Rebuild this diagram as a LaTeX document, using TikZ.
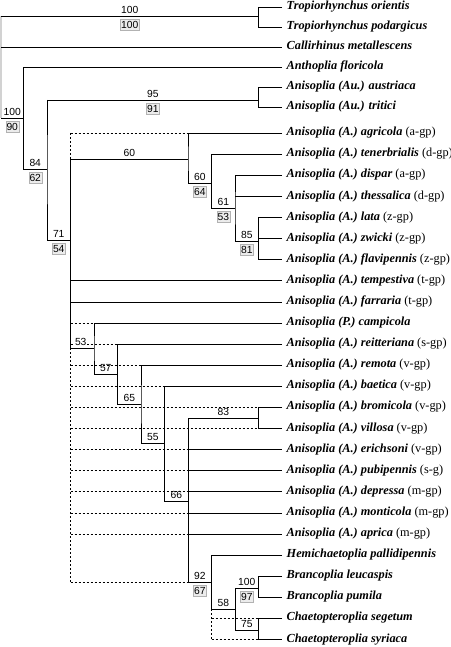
\documentclass[tikz,border=0pt]{standalone}
\usepackage{fontspec}
\setmainfont{Liberation Serif}
\newfontfamily\numfont{Liberation Sans}
\newcommand{\taxon}[1]{\textbf{\textit{#1}}}

\begin{document}
\begin{tikzpicture}[
  x=1pt, y=-1pt,
  br/.style={line width=0.8pt},
  alt/.style={line width=0.7pt, dash pattern=on 2.2pt off 1.8pt},
  leaf/.style={anchor=west, inner xsep=4.5pt, inner ysep=0pt,
               text height=8.5pt, text depth=3pt,
               font=\fontsize{12.3}{14}\selectfont},
  bs/.style={midway, anchor=south, inner sep=1pt, yshift=0.8pt,
             font=\numfont\fontsize{10.3}{11}\selectfont},
  bp/.style={midway, anchor=north, inner xsep=0.8pt, inner ysep=1.8pt,
             yshift=-3pt, fill=gray!15, draw=gray!60, line width=0.3pt,
             font=\numfont\fontsize{10.3}{11}\selectfont}
]
\useasboundingbox (0,0) rectangle (450,647);

% --- Taxa ---
\node[leaf] (orientis)     at (282,7)     {\taxon{Tropiorhynchus orientis}};
\node[leaf] (podargicus)   at (282,27)    {\taxon{Tropiorhynchus podargicus}};
\node[leaf] (callirhinus)  at (282,47)    {\taxon{Callirhinus metallescens}};
\node[leaf] (anthoplia)    at (282,67)    {\taxon{Anthoplia floricola}};
\node[leaf] (austriaca)    at (282,87)    {\taxon{Anisoplia (Au.) austriaca}};
\node[leaf] (tritici)      at (282,107)   {\taxon{Anisoplia (Au.) tritici}};
\node[leaf] (agricola)     at (282,133)   {\taxon{Anisoplia (A.) agricola} (a-gp)};
\node[leaf] (tenerbrialis) at (282,154)   {\taxon{Anisoplia (A.) tenerbrialis} (d-gp)};
\node[leaf] (dispar)       at (282,175)   {\taxon{Anisoplia (A.) dispar} (a-gp)};
\node[leaf] (thessalica)   at (282,196.5) {\taxon{Anisoplia (A.) thessalica} (d-gp)};
\node[leaf] (lata)         at (282,217.5) {\taxon{Anisoplia (A.) lata} (z-gp)};
\node[leaf] (zwicki)       at (282,238.5) {\taxon{Anisoplia (A.) zwicki} (z-gp)};
\node[leaf] (flavipennis)  at (282,259.5) {\taxon{Anisoplia (A.) flavipennis} (z-gp)};
\node[leaf] (tempestiva)   at (282,280.5) {\taxon{Anisoplia (A.) tempestiva} (t-gp)};
\node[leaf] (farraria)     at (282,302)   {\taxon{Anisoplia (A.) farraria} (t-gp)};
\node[leaf] (campicola)    at (282,323)   {\taxon{Anisoplia (P.) campicola}};
\node[leaf] (reitteriana)  at (282,344)   {\taxon{Anisoplia (A.) reitteriana} (s-gp)};
\node[leaf] (remota)       at (282,365)   {\taxon{Anisoplia (A.) remota} (v-gp)};
\node[leaf] (baetica)      at (282,386)   {\taxon{Anisoplia (A.) baetica} (v-gp)};
\node[leaf] (bromicola)    at (282,407)   {\taxon{Anisoplia (A.) bromicola} (v-gp)};
\node[leaf] (villosa)      at (282,428.5) {\taxon{Anisoplia (A.) villosa} (v-gp)};
\node[leaf] (erichsoni)    at (282,449.5) {\taxon{Anisoplia (A.) erichsoni} (v-gp)};
\node[leaf] (pubipennis)   at (282,470.5) {\taxon{Anisoplia (A.) pubipennis} (s-g)};
\node[leaf] (depressa)     at (282,491.5) {\taxon{Anisoplia (A.) depressa} (m-gp)};
\node[leaf] (monticola)    at (282,513)   {\taxon{Anisoplia (A.) monticola} (m-gp)};
\node[leaf] (aprica)       at (282,534)   {\taxon{Anisoplia (A.) aprica} (m-gp)};
\node[leaf] (hemi)         at (282,555)   {\taxon{Hemichaetoplia pallidipennis}};
\node[leaf] (leucaspis)    at (282,576)   {\taxon{Brancoplia leucaspis}};
\node[leaf] (pumila)       at (282,597)   {\taxon{Brancoplia pumila}};
\node[leaf] (segetum)      at (282,618)   {\taxon{Chaetopteroplia segetum}};
\node[leaf] (syriaca)      at (282,639.5) {\taxon{Chaetopteroplia syriaca}};

% --- Internal nodes ---
\coordinate (root) at (1,16);
\coordinate (tro)  at (258.5,16);
\coordinate (n90)  at (23.5,118);
\coordinate (n84)  at (47,169);
\coordinate (au)   at (258.5,100);
\coordinate (n71)  at (70.5,240);
\coordinate (agr)  at (188,159);
\coordinate (n60)  at (211.5,183);
\coordinate (n61)  at (235,208);
\coordinate (n85)  at (258.5,241);
\coordinate (n53)  at (94,348);
\coordinate (n57)  at (117.5,374);
\coordinate (n65)  at (141,404);
\coordinate (n55)  at (164.5,443);
\coordinate (n66)  at (188,501);
\coordinate (n83)  at (258.5,418);
\coordinate (n92)  at (211.5,582);
\coordinate (n58)  at (235,609);
\coordinate (bra)  at (258.5,588);
\coordinate (n75)  at (258.5,630);

% --- Alternative placements (dashed) ---
\draw[alt] (n71 |- agricola.west) -- (n71 |- agr);
\draw[alt] (n71 |- n53) -- (n71 |- n92);
\draw[alt] (n71 |- agricola.west) -- (agr |- agricola.west);
\draw[alt] (n71 |- campicola.west) -- (n53 |- campicola.west);
\draw[alt] (n71 |- reitteriana.west) -- (n57 |- reitteriana.west);
\draw[alt] (n71 |- remota.west) -- (n65 |- remota.west);
\draw[alt] (n71 |- baetica.west) -- (n55 |- baetica.west);
\draw[alt] (n71 |- bromicola.west) -- (n83 |- bromicola.west);
\draw[alt] (n71 |- villosa.west) -- (n83 |- villosa.west);
\draw[alt] (n71 |- erichsoni.west) -- (n66 |- erichsoni.west);
\draw[alt] (n71 |- pubipennis.west) -- (n66 |- pubipennis.west);
\draw[alt] (n71 |- depressa.west) -- (n66 |- depressa.west);
\draw[alt] (n71 |- monticola.west) -- (n66 |- monticola.west);
\draw[alt] (n71 |- aprica.west) -- (n66 |- aprica.west);
\draw[alt] (n71 |- n92) -- (n66 |- n92);
\draw[alt] (n92 |- n58) -- (n92 |- syriaca.west);
\draw[alt] (n92 |- segetum.west) -- (n75 |- segetum.west);
\draw[alt] (n92 |- syriaca.west) -- (n75 |- syriaca.west);

% --- Outgroups ---
\draw[gray!35, line width=2pt] (root) -- (root |- n90);
\draw[br] (root) -- node[bs]{100} node[bp]{100} (tro);
\draw[br] (orientis.west) -| (tro) |- (podargicus.west);
\draw[br] (root |- callirhinus.west) -- (callirhinus.west);
\draw[br] (root |- n90) -- node[bs]{100} node[bp]{90} (n90);
\draw[br] (anthoplia.west) -| (n90) -- (n90 |- n84) -- node[bs]{84} node[bp]{62} (n84);
\draw[br] (n84 |- au) -- node[bs]{95} node[bp]{91} (au);
\draw[br] (austriaca.west) -| (au) |- (tritici.west);
\draw[br] (n84 |- au) -- (n84) -- (n84 |- n71) -- node[bs]{71} node[bp]{54} (n71);

% --- Anisoplia s.str. ---
\draw[br] (n71 |- agr) -- (n71 |- n53);
\draw[br] (n71 |- agr) -- node[bs]{60} (agr);
\draw[br] (agricola.west) -| (agr) -- (agr |- n60) -- node[bs]{60} node[bp]{64} (n60);
\draw[br] (tenerbrialis.west) -| (n60) -- (n60 |- n61) -- node[bs]{61} node[bp]{53} (n61);
\draw[br] (dispar.west) -| (n61) -- (n61 |- n85) -- node[bs]{85} node[bp]{81} (n85);
\draw[br] (thessalica.west) -- (n61 |- thessalica.west);
\draw[br] (lata.west) -| (n85) |- (flavipennis.west);
\draw[br] (zwicki.west) -- (n85 |- zwicki.west);
\draw[br] (n71 |- tempestiva.west) -- (tempestiva.west);
\draw[br] (n71 |- farraria.west) -- (farraria.west);

% --- Comb of nested clades ---
\draw[br] (n71 |- n53) -- node[bs, fill=white, xshift=-1.5pt]{53} (n53);
\draw[br] (campicola.west) -| (n53) -- (n53 |- n57) -- node[bs]{57} (n57);
\draw[br] (reitteriana.west) -| (n57) -- (n57 |- n65) -- node[bs]{65} (n65);
\draw[br] (remota.west) -| (n65) -- (n65 |- n55) -- node[bs]{55} (n55);
\draw[br] (baetica.west) -| (n55) -- (n55 |- n66) -- node[bs]{66} (n66);
\draw[br] (n66 |- n83) -- node[bs]{83} (n83);
\draw[br] (bromicola.west) -| (n83) |- (villosa.west);
\draw[br] (n66 |- n83) -- (n66 |- n92) -- node[bs]{92} node[bp]{67} (n92);
\draw[br] (n66 |- erichsoni.west) -- (erichsoni.west);
\draw[br] (n66 |- pubipennis.west) -- (pubipennis.west);
\draw[br] (n66 |- depressa.west) -- (depressa.west);
\draw[br] (n66 |- monticola.west) -- (monticola.west);
\draw[br] (n66 |- aprica.west) -- (aprica.west);

% --- Hemichaetoplia, Brancoplia, Chaetopteroplia ---
\draw[br] (hemi.west) -| (n92) -- (n92 |- n58) -- node[bs]{58} (n58);
\draw[br] (n58 |- bra) -- node[bs]{100} node[bp]{97} (bra);
\draw[br] (leucaspis.west) -| (bra) |- (pumila.west);
\draw[br] (n58 |- bra) -- (n58 |- n75) -- node[bs]{75} (n75);
\draw[br] (segetum.west) -| (n75) |- (syriaca.west);
\end{tikzpicture}
\end{document}
